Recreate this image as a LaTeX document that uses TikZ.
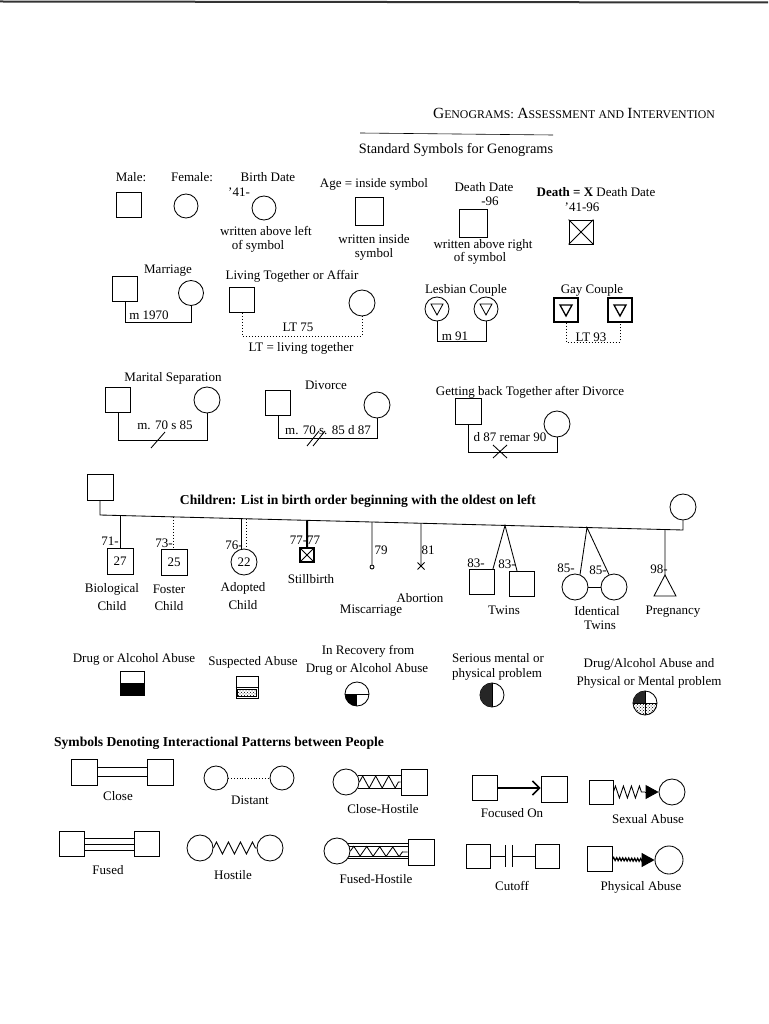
\documentclass[tikz,border=0pt]{standalone}
\usepackage{fontspec}
\setmainfont{Liberation Serif}
\usetikzlibrary{calc,decorations.pathmorphing,arrows.meta,patterns}
\newcommand{\scx}[2]{{\fontsize{15.5}{17}\selectfont #1}{\fontsize{11.8}{13}\selectfont #2}}
\begin{document}
\begin{tikzpicture}[x=1pt,y=-1pt,line width=0.85pt,
  every node/.style={font=\fontsize{13}{15}\selectfont},
  lab/.style={inner sep=0pt},
  bl/.style={inner sep=0pt,font=\fontsize{13.6}{15}\selectfont\bfseries},
  sq/.style={draw,rectangle,minimum size=#1,inner sep=0pt},
  sq/.default=25pt,
  ci/.style={draw,circle,minimum size=#1,inner sep=0pt},
  ci/.default=24pt,
  dotrel/.style={dotted,line width=1pt},
  zz/.style={decorate,decoration={zigzag,segment length=#1,amplitude=6pt}},
  zz/.default=12pt]
\path[use as bounding box,fill=white] (0,0) rectangle (768,1024);
\draw[line width=2pt,black!80] (0,1.5) -- (768,2.5);

% ---------- header
\node[lab] (title) at (574,113) {\scx{G}{ENOGRAMS}: \scx{A}{SSESSMENT} \scx{}{AND} \scx{I}{NTERVENTION}};
\draw[line width=0.6pt] (360,133) -- (553,135);
\node[lab,font=\fontsize{14.3}{16}\selectfont] (sub) at (456,150) {Standard Symbols for Genograms};

% ---------- row 1
\node[lab] at (131,177) {Male:};
\node[sq] (male) at (129,205) {};
\node[lab] at (192,177) {Female:};
\node[ci] (fem) at (186,206) {};
\node[lab] at (268,177) {Birth Date};
\node[lab] at (239,192) {'41-};
\node[ci] (bd) at (264,208) {};
\node[lab] at (266,231) {written above left};
\node[lab] at (258,246) {of symbol};
\node[lab] at (374,184) {Age = inside symbol};
\node[sq=28pt] (age) at (369,211) {};
\node[lab] at (374,239) {written inside};
\node[lab] at (374,254) {symbol};
\node[lab] at (484,187) {Death Date};
\node[lab] at (490,201) {-96};
\node[sq=28pt] (dd) at (473,223) {};
\node[lab] at (483,245) {written above right};
\node[lab] at (480,258) {of symbol};
\node[lab] at (596,192) {\textbf{Death = X} Death Date};
\node[lab] at (582,207) {'41-96};
\node[sq=24pt] (dx) at (581,232) {};
\draw (dx.north west) -- (dx.south east) (dx.north east) -- (dx.south west);

% ---------- row 2
\node[lab] at (168,271) {Marriage};
\node[sq] (ms) at (125,289) {};
\node[ci=25pt] (mc) at (191,293) {};
\draw (ms.south) -- (ms.south |- 0,322) -| (mc.south);
\node[lab] at (149,315) {m 1970};

\node[lab] at (292,276) {Living Together or Affair};
\node[sq] (ls) at (242,300) {};
\node[ci=26pt] (lc) at (362,303) {};
\draw[dotrel] (ls.south) -- (ls.south |- 0,336) -| (lc.south);
\node[lab] at (298,327) {LT 75};
\node[lab] at (301,348) {LT = living together};

\node[lab] at (466,290) {Lesbian Couple};
\node[ci] (lb1) at (437,309) {};
\node[ci] (lb2) at (486,309) {};
\foreach \n in {lb1,lb2}
  \draw ($(\n.center)+(-6,-5)$) -- ($(\n.center)+(6,-5)$) -- ($(\n.center)+(0,6)$) -- cycle;
\draw (lb1.south) -- (lb1.south |- 0,341) -| (lb2.south);
\node[lab] at (455,336) {m 91};

\node[lab] at (592,290) {Gay Couple};
\node[sq=24pt,line width=1.3pt] (gy1) at (566,310) {};
\node[sq=24pt,line width=1.3pt] (gy2) at (620,310) {};
\foreach \n in {gy1,gy2}
  \draw[line width=1.3pt] ($(\n.center)+(-6,-5)$) -- ($(\n.center)+(6,-5)$) -- ($(\n.center)+(0,6)$) -- cycle;
\draw[dotrel] (gy1.south) -- (gy1.south |- 0,342) -| (gy2.south);
\node[lab] at (591,337) {LT 93};

% ---------- row 3
\node[lab] at (173,378) {Marital Separation};
\node[sq] (ss) at (118,400) {};
\node[ci=26pt] (sc) at (207,400) {};
\draw (ss.south) -- (ss.south |- 0,440) -| (sc.south);
\node[lab] at (165,425) {m. 70 s 85};
\draw (151,448) -- (165,432);

\node[lab] at (326,385) {Divorce};
\node[sq] (vs) at (278,403) {};
\node[ci=26pt] (vc) at (377,405) {};
\draw (vs.south) -- (vs.south |- 0,438) -| (vc.south);
\node[lab] at (328,430) {m. 70 s. 85 d 87};
\draw (307,446) -- (319,431) (313,446) -- (325,431);

\node[lab] at (530,392) {Getting back Together after Divorce};
\node[sq=26pt] (gs) at (468,411) {};
\node[ci=26pt] (gc) at (557,424) {};
\draw (gs.south) -- (gs.south |- 0,452) -| (gc.south);
\node[lab] at (510,437) {d 87 remar 90};
\draw (493,445) -- (507,458) (493,458) -- (507,445);

% ---------- children
\node[sq=26pt] (ps) at (100,487) {};
\node[ci=26pt] (pc) at (683,507) {};
\coordinate (pl) at (100,515);
\coordinate (pr) at (683,530);
\draw (ps.south) -- (pl) -- (pr) -- (pc.south);
\node[bl] at (358,501) {Children: List in birth order beginning with the oldest on left};
\coordinate (b1) at ($(pl)!0.0343!(pr)$);
\coordinate (b2) at ($(pl)!0.1269!(pr)$);
\coordinate (b3) at ($(pl)!0.2419!(pr)$);
\coordinate (b4) at ($(pl)!0.2521!(pr)$);
\coordinate (b5) at ($(pl)!0.3551!(pr)$);
\coordinate (b6) at ($(pl)!0.4666!(pr)$);
\coordinate (b7) at ($(pl)!0.5506!(pr)$);
\coordinate (b8) at ($(pl)!0.6947!(pr)$);
\coordinate (b9) at ($(pl)!0.8353!(pr)$);
\coordinate (b10) at ($(pl)!0.9691!(pr)$);

\node[sq=26pt] (k1) at (120,561) {27};
\draw (b1) -- (b1 |- k1.north);
\node[lab] at (110,541) {71-};
\node[sq=26pt] (k2) at (174,562) {25};
\draw[dotrel] (b2) -- (b2 |- k2.north);
\node[lab] at (164,543) {73-};
\node[ci=26pt] (k3) at (244,562) {22};
\draw (b3) -- (b3 |- k3.north);
\draw[dotrel] (b4) -- (b4 |- k3.north);
\node[lab] at (234,545) {76-};
\node[sq=14pt,line width=1.2pt] (k4) at (307,555) {};
\draw[line width=1pt] (k4.north west) -- (k4.south east) (k4.north east) -- (k4.south west);
\draw[line width=2pt] (b5) -- (k4.north);
\node[lab] at (305,540) {77-77};
\node[circle,draw,minimum size=4pt,inner sep=0pt] (k5) at (372,567) {};
\draw (b6) -- (k5.north);
\node[lab] at (381,550) {79};
\coordinate (k6) at (421,566);
\draw (b7) -- (k6);
\draw ($(k6)+(-3.5,-3.5)$) -- ($(k6)+(3.5,3.5)$) ($(k6)+(-3.5,3.5)$) -- ($(k6)+(3.5,-3.5)$);
\node[lab] at (428,550) {81};
\node[sq] (k7) at (482,582) {};
\node[sq] (k8) at (522,584) {};
\draw ($(k7.north east)+(-2,0)$) -- (b8) -- ($(k8.north west)+(8,0)$);
\node[lab] at (476,563) {83-};
\node[lab] at (507,564) {83-};
\node[ci=26pt] (k9) at (575,587) {};
\node[ci=26pt] (k10) at (614,587) {};
\draw (k9.68) -- (b9) -- (k10.112);
\draw (k9.east) -- (k10.west);
\node[lab] at (566,568) {85-};
\node[lab] at (598,570) {85-};
\coordinate (k11) at (665,575);
\draw (b10) -- (k11);
\draw (k11) -- ++(11,21) -- ++(-22,0) -- cycle;
\node[lab] at (659,569) {98-};

\node[lab] at (112,589) {Biological};
\node[lab] at (112,606) {Child};
\node[lab] at (169,589) {Foster};
\node[lab] at (169,606) {Child};
\node[lab] at (243,588) {Adopted};
\node[lab] at (243,605) {Child};
\node[lab] at (311,579) {Stillbirth};
\node[lab] at (371,611) {Miscarriage};
\node[lab] at (420,598) {Abortion};
\node[lab] at (504,610) {Twins};
\node[lab] at (597,611) {Identical};
\node[lab] at (600,625) {Twins};
\node[lab] at (673,612) {Pregnancy};

% ---------- health symbols
\node[lab] at (134,659) {Drug or Alcohol Abuse};
\node[sq=24pt] (hs1) at (132,683) {};
\fill (hs1.west) rectangle (hs1.south east);
\node[lab] at (253,662) {Suspected Abuse};
\node[sq=22pt] (hs2) at (247,687) {};
\draw (hs2.west) -- (hs2.east);
\draw[line width=0.5pt,pattern=crosshatch dots] ($(hs2.west)+(2,2)$) rectangle ($(hs2.south east)+(-2,-2)$);
\node[lab] at (368,651) {In Recovery from};
\node[lab] at (367,669) {Drug or Alcohol Abuse};
\node[ci] (hs3) at (357,694) {};
\begin{scope}
\clip (hs3.center) circle[radius=12];
\fill (hs3.west) rectangle (hs3.south);
\end{scope}
\draw (hs3.west) -- (hs3.east);
\node[lab] at (498,658) {Serious mental or};
\node[lab] at (497,674) {physical problem};
\node[ci] (hs4) at (492,695) {};
\begin{scope}
\clip (hs4.center) circle[radius=12];
\fill[black!85] (hs4.west |- hs4.north) rectangle (hs4.south);
\end{scope}
\draw (hs4.north) -- (hs4.south);
\node[lab] at (649,664) {Drug/Alcohol Abuse and};
\node[lab] at (649,682) {Physical or Mental problem};
\node[ci] (hs5) at (645,703) {};
\begin{scope}
\clip (hs5.center) circle[radius=12];
\fill[black!85] (hs5.west |- hs5.north) rectangle (hs5.center);
\fill[pattern=crosshatch dots] (hs5.west) rectangle (hs5.east |- hs5.south);
\end{scope}
\draw (hs5.north) -- (hs5.south) (hs5.west) -- (hs5.east);

% ---------- interactional patterns
\node[bl] at (219,743) {Symbols Denoting Interactional Patterns between People};

\node[sq=26pt] (cl1) at (84,772) {};
\node[sq=26pt] (cl2) at (160,772) {};
\draw ([yshift=4.5pt]cl1.east) -- ([yshift=4.5pt]cl2.west);
\draw ([yshift=-4.5pt]cl1.east) -- ([yshift=-4.5pt]cl2.west);
\node[lab] at (118,796) {Close};

\node[ci] (di1) at (216,778) {};
\node[ci] (di2) at (282,778) {};
\draw[dotted,line width=0.8pt] (di1.east) -- (di2.west);
\node[lab] at (250,800) {Distant};

\node[ci=26pt] (ch1) at (346,782) {};
\node[sq=26pt] (ch2) at (414,782) {};
\draw (ch1.28) -- (ch1.28 -| ch2.west);
\draw (ch1.-28) -- (ch1.-28 -| ch2.west);
\draw[zz=13pt] (ch1.east) -- (ch2.west);
\node[lab] at (383,809) {Close-Hostile};

\node[sq] (fo1) at (485,788) {};
\node[sq=26pt] (fo2) at (554,789) {};
\draw[line width=1.6pt,-{Straight Barb[length=7pt,width=14pt]}] (fo1.east) -- (fo1.east -| fo2.west);
\node[lab] at (512,813) {Focused On};

\node[sq=24pt] (sa1) at (601,792) {};
\node[ci=26pt] (sa2) at (672,792) {};
\coordinate (saz) at (645,792);
\draw[zz=8pt] (sa1.east) -- (saz);
\draw[-{Triangle[length=13pt,width=14pt]}] (saz) -- (sa2.west);
\node[lab] at (648,819) {Sexual Abuse};

\node[sq] (fu1) at (72,844) {};
\node[sq] (fu2) at (147,844) {};
\draw ([yshift=6pt]fu1.east) -- ([yshift=6pt]fu2.west);
\draw (fu1.east) -- (fu2.west);
\draw ([yshift=-6pt]fu1.east) -- ([yshift=-6pt]fu2.west);
\node[lab] at (108,870) {Fused};

\node[ci=26pt] (ho1) at (200,848) {};
\node[ci=26pt] (ho2) at (270,848) {};
\draw[zz=12pt] (ho1.east) -- (ho2.west);
\node[lab] at (233,875) {Hostile};

\node[ci=26pt] (fh1) at (337,851) {};
\node[sq=26pt] (fh2) at (421,852) {};
\draw (fh1.35) -- (fh1.35 -| fh2.west);
\draw (fh1.22) -- (fh1.22 -| fh2.west);
\draw (fh1.-22) -- (fh1.-22 -| fh2.west);
\draw (fh1.-35) -- (fh1.-35 -| fh2.west);
\draw[decorate,decoration={zigzag,segment length=13pt,amplitude=4.8pt}] (fh1.east) -- (fh2.west);
\node[lab] at (376,879) {Fused-Hostile};

\node[sq=24pt] (cu1) at (478,856) {};
\node[sq=24pt] (cu2) at (547,856) {};
\coordinate (cua) at (505,856);
\coordinate (cub) at (512,856);
\draw (cu1.east) -- (cua);
\draw (cub) -- (cu2.west);
\draw ($(cua)+(0,-11)$) -- ($(cua)+(0,11)$);
\draw ($(cub)+(0,-11)$) -- ($(cub)+(0,11)$);
\node[lab] at (512,886) {Cutoff};

\node[sq] (pa1) at (600,859) {};
\node[ci=28pt] (pa2) at (669,860) {};
\coordinate (paz) at (643,860);
\draw[line width=1.2pt,decorate,decoration={zigzag,segment length=3pt,amplitude=1.5pt}] (pa1.east) -- (paz);
\draw[line width=1.2pt,-{Triangle[length=13pt,width=14pt]}] (paz) -- (pa2.west);
\node[lab] at (641,887) {Physical Abuse};
\end{tikzpicture}
\end{document}
